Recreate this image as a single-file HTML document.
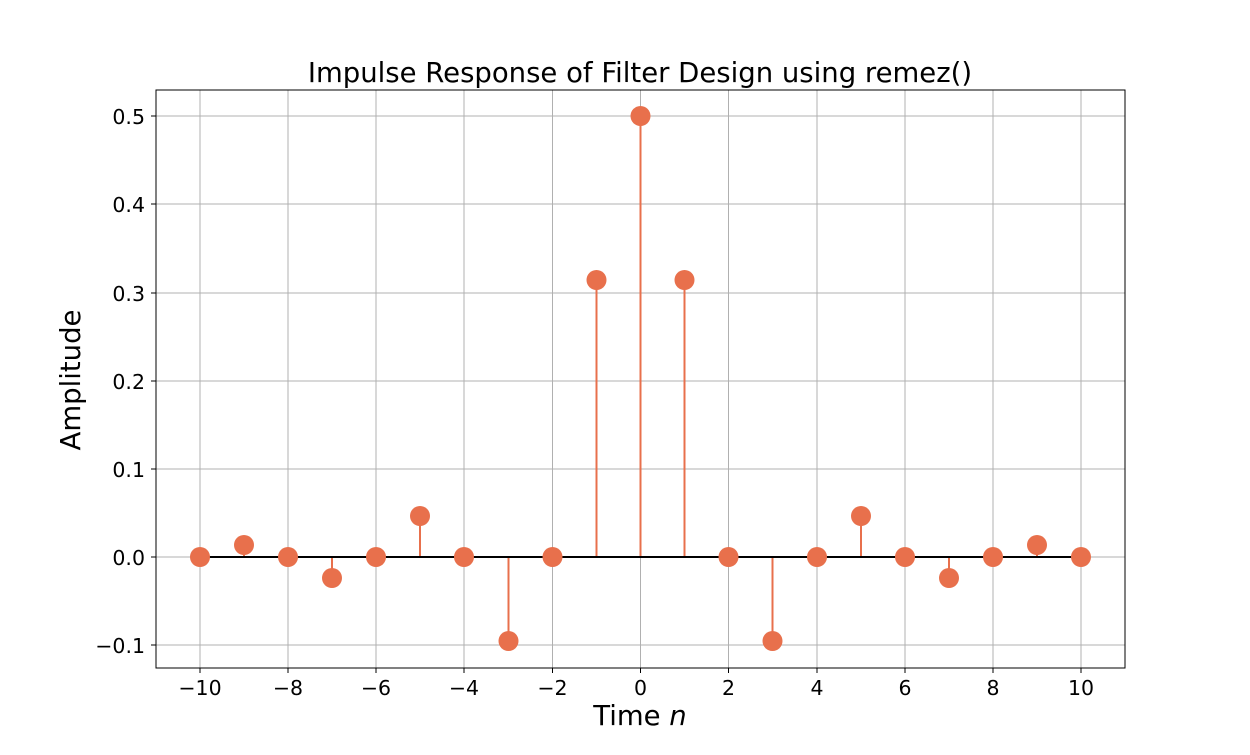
<!DOCTYPE html>
<html><head><style>body{margin:0;background:#fff}svg text{font-family:"DejaVu Sans","Liberation Sans",sans-serif}</style></head><body>
<svg width="1250" height="750" xmlns="http://www.w3.org/2000/svg">
<rect width="1250" height="750" fill="#fff"/>
<g stroke="#b0b0b0" stroke-width="1">
<line x1="200" y1="90" x2="200" y2="668"/><line x1="288" y1="90" x2="288" y2="668"/><line x1="376" y1="90" x2="376" y2="668"/><line x1="464" y1="90" x2="464" y2="668"/><line x1="552.5" y1="90" x2="552.5" y2="668"/><line x1="640.5" y1="90" x2="640.5" y2="668"/><line x1="728.5" y1="90" x2="728.5" y2="668"/><line x1="817" y1="90" x2="817" y2="668"/><line x1="905" y1="90" x2="905" y2="668"/><line x1="993" y1="90" x2="993" y2="668"/><line x1="1081" y1="90" x2="1081" y2="668"/>
<line x1="156" y1="645" x2="1125" y2="645"/><line x1="156" y1="557" x2="1125" y2="557"/><line x1="156" y1="469" x2="1125" y2="469"/><line x1="156" y1="381" x2="1125" y2="381"/><line x1="156" y1="293" x2="1125" y2="293"/><line x1="156" y1="204" x2="1125" y2="204"/><line x1="156" y1="116" x2="1125" y2="116"/>
</g>
<g stroke="#e8704c" stroke-width="2">
<line x1="244" y1="557" x2="244" y2="545"/><line x1="332" y1="557" x2="332" y2="578"/><line x1="420" y1="557" x2="420" y2="516"/><line x1="508.5" y1="557" x2="508.5" y2="641"/><line x1="596.5" y1="557" x2="596.5" y2="280"/><line x1="640.5" y1="557" x2="640.5" y2="116"/><line x1="684.5" y1="557" x2="684.5" y2="280"/><line x1="772.5" y1="557" x2="772.5" y2="641"/><line x1="861" y1="557" x2="861" y2="516"/><line x1="949" y1="557" x2="949" y2="578"/><line x1="1037" y1="557" x2="1037" y2="545"/>
</g>
<line x1="200" y1="557" x2="1081" y2="557" stroke="#000" stroke-width="2"/>
<g fill="#e8704c">
<circle cx="200" cy="557" r="10"/><circle cx="244" cy="545" r="10"/><circle cx="288" cy="557" r="10"/><circle cx="332" cy="578" r="10"/><circle cx="376" cy="557" r="10"/><circle cx="420" cy="516" r="10"/><circle cx="464" cy="557" r="10"/><circle cx="508.5" cy="641" r="10"/><circle cx="552.5" cy="557" r="10"/><circle cx="596.5" cy="280" r="10"/><circle cx="640.5" cy="116" r="10"/><circle cx="684.5" cy="280" r="10"/><circle cx="728.5" cy="557" r="10"/><circle cx="772.5" cy="641" r="10"/><circle cx="817" cy="557" r="10"/><circle cx="861" cy="516" r="10"/><circle cx="905" cy="557" r="10"/><circle cx="949" cy="578" r="10"/><circle cx="993" cy="557" r="10"/><circle cx="1037" cy="545" r="10"/><circle cx="1081" cy="557" r="10"/>
</g>
<rect x="156" y="90" width="969" height="578" fill="none" stroke="#000" stroke-width="1"/>
<g stroke="#000"><line x1="200" y1="668" x2="200" y2="673"/><line x1="288" y1="668" x2="288" y2="673"/><line x1="376" y1="668" x2="376" y2="673"/><line x1="464" y1="668" x2="464" y2="673"/><line x1="552.5" y1="668" x2="552.5" y2="673"/><line x1="640.5" y1="668" x2="640.5" y2="673"/><line x1="728.5" y1="668" x2="728.5" y2="673"/><line x1="817" y1="668" x2="817" y2="673"/><line x1="905" y1="668" x2="905" y2="673"/><line x1="993" y1="668" x2="993" y2="673"/><line x1="1081" y1="668" x2="1081" y2="673"/>
<line x1="151" y1="645" x2="156" y2="645"/><line x1="151" y1="557" x2="156" y2="557"/><line x1="151" y1="469" x2="156" y2="469"/><line x1="151" y1="381" x2="156" y2="381"/><line x1="151" y1="293" x2="156" y2="293"/><line x1="151" y1="204" x2="156" y2="204"/><line x1="151" y1="116" x2="156" y2="116"/></g>
<g font-size="20.5" text-anchor="middle" fill="#000">
<text x="200" y="695">−10</text><text x="288" y="695">−8</text><text x="376" y="695">−6</text><text x="464" y="695">−4</text><text x="552.5" y="695">−2</text><text x="640.5" y="695">0</text><text x="728.5" y="695">2</text><text x="817" y="695">4</text><text x="905" y="695">6</text><text x="993" y="695">8</text><text x="1081" y="695">10</text>
</g>
<g font-size="20.5" text-anchor="end" fill="#000">
<text x="145" y="653">−0.1</text><text x="145" y="565">0.0</text><text x="145" y="477">0.1</text><text x="145" y="389">0.2</text><text x="145" y="301">0.3</text><text x="145" y="212">0.4</text><text x="145" y="124">0.5</text>
</g>
<text x="640" y="725" font-size="27.5" text-anchor="middle">Time <tspan font-style="italic">n</tspan></text>
<text x="80" y="380" font-size="27.5" text-anchor="middle" transform="rotate(-90 80 380)">Amplitude</text>
<text x="640" y="82" font-size="27.5" text-anchor="middle">Impulse Response of Filter Design using remez()</text>
</svg>
</body></html>
